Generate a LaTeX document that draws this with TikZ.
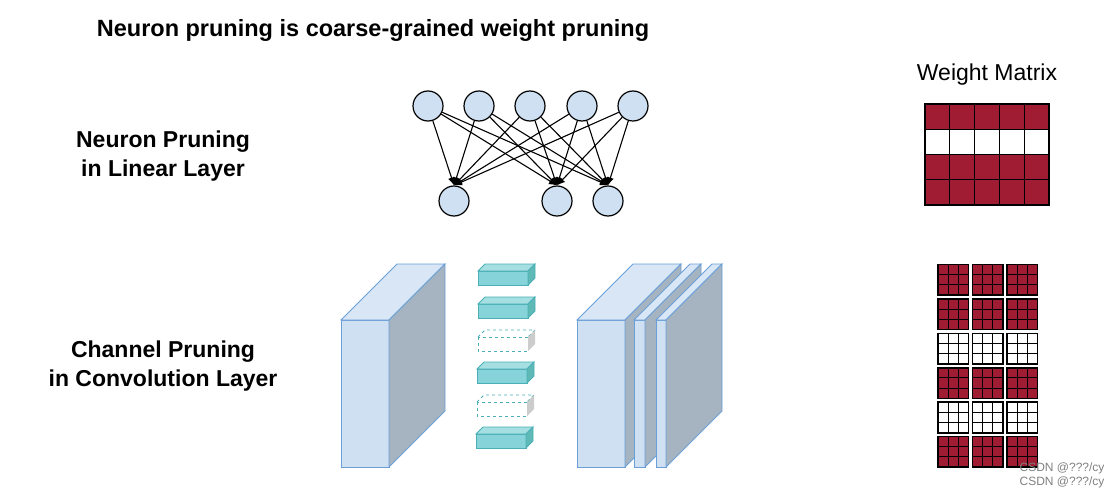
\documentclass[tikz,border=0pt]{standalone}
\usepackage{fontspec}
\setmainfont{Liberation Sans}
\usetikzlibrary{arrows.meta}
\definecolor{nfill}{HTML}{CFE0F2}
\definecolor{bedge}{HTML}{6A9FD8}
\definecolor{bside}{HTML}{A6B3C0}
\definecolor{btop}{HTML}{D8E6F5}
\definecolor{cfill}{HTML}{86D4DA}
\definecolor{cedge}{HTML}{4AB0B5}
\definecolor{cside}{HTML}{5FB9B6}
\definecolor{ctop}{HTML}{A5DFE2}
\definecolor{wred}{HTML}{A01C32}
\tikzset{
 neuron/.style={circle,draw=black,fill=nfill,minimum size=30pt,inner sep=0pt,line width=1.2pt},
 conn/.style={-{Latex[length=8pt,width=7pt]},line width=1.1pt},
 lbl/.style={font=\bfseries\fontsize{23}{29}\selectfont,align=center},
 cell/.style={draw=black,line width=1.2pt},
}
\newcommand{\slab}[5]{% x1 x2 ytop ybot depth
 \fill[nfill,draw=bedge,line width=0.8pt] (#1,#3) rectangle (#2,#4);
 \fill[btop,draw=bedge,line width=0.8pt] (#1,#3) -- (#1+#5,#3-#5) -- (#2+#5,#3-#5) -- (#2,#3) -- cycle;
 \fill[bside,draw=bedge,line width=0.8pt] (#2,#3) -- (#2+#5,#3-#5) -- (#2+#5,#4-#5) -- (#2,#4) -- cycle;}
\newcommand{\filt}[3]{% x y(top of front) dashed?
 \ifnum#3=0
 \fill[cfill,draw=cedge,line width=0.8pt] (#1,#2) rectangle (#1+50,#2+14);
 \fill[ctop,draw=cedge,line width=0.8pt] (#1,#2) -- (#1+7,#2-7) -- (#1+57,#2-7) -- (#1+50,#2) -- cycle;
 \fill[cside,draw=cedge,line width=0.8pt] (#1+50,#2) -- (#1+57,#2-7) -- (#1+57,#2+7) -- (#1+50,#2+14) -- cycle;
 \else
 \draw[cedge,dashed,line width=0.8pt] (#1,#2) rectangle (#1+50,#2+14);
 \draw[cedge,dashed,line width=0.8pt] (#1,#2) -- (#1+7,#2-7) -- (#1+57,#2-7) -- (#1+50,#2);
 \fill[gray!40] (#1+50,#2) -- (#1+57,#2-7) -- (#1+57,#2+7) -- (#1+50,#2+14) -- cycle;
 \fi}
\begin{document}
\begin{tikzpicture}[x=1pt,y=-1pt]
\useasboundingbox (0,0) rectangle (1108,497);
\node[font=\bfseries\fontsize{23.5}{28}\selectfont] (title) at (373,30) {Neuron pruning is coarse-grained weight pruning};
\node[lbl] (l1) at (163,156) {Neuron Pruning\\in Linear Layer};
\node[lbl] (l2) at (163,366) {Channel Pruning\\in Convolution Layer};
\node[font=\fontsize{23}{27}\selectfont] (wm) at (987,75) {Weight Matrix};
% neurons
\foreach \i/\x in {1/428,2/479,3/530,4/582,5/633} \node[neuron] (t\i) at (\x,106) {};
\foreach \i/\x in {1/454,2/557,3/608} \node[neuron] (b\i) at (\x,201) {};
\foreach \i in {1,...,5} \foreach \j in {1,2,3} \draw[conn] (t\i) -- (b\j.north);
% weight matrix
\foreach \r in {0,...,3} \foreach \c in {0,...,4} {
 \ifnum\r=1 \def\cc{white}\else\def\cc{wred}\fi
 \filldraw[cell,fill=\cc] (925+\c*24.8,104+\r*25.25) rectangle ++(24.8,25.25);}
% conv grids
\foreach \r/\red in {0/1,1/1,2/0,3/1,4/0,5/1} \foreach \c in {0,1,2} {
 \ifnum\red=1 \def\cc{wred}\else\def\cc{white}\fi
 \foreach \i in {0,1,2} \foreach \j in {0,1,2}
  \filldraw[draw=black,line width=1pt,fill=\cc] (938+\c*34.5+\i*10.2,264.5+\r*34.4+\j*10.2) rectangle ++(10.2,10.2);
 \draw[black,line width=1.6pt] (938+\c*34.5,264.5+\r*34.4) rectangle ++(30.6,30.6);}
% conv blocks
\slab{341}{389}{320}{467}{56}
\slab{577}{625}{320}{467}{56}
\slab{634}{645}{320}{467}{56}
\slab{656}{666}{320}{467}{56}
% filters
\filt{478}{271}{0}
\filt{478}{304}{0}
\filt{478}{337}{1}
\filt{477}{369}{0}
\filt{477}{402}{1}
\filt{476}{434}{0}
% watermark
\node[font=\fontsize{12}{14}\selectfont,text=gray,align=right,anchor=south east] (csdn) at (1108,492) {CSDN @???/cy\\CSDN @???/cy};
\end{tikzpicture}
\end{document}
